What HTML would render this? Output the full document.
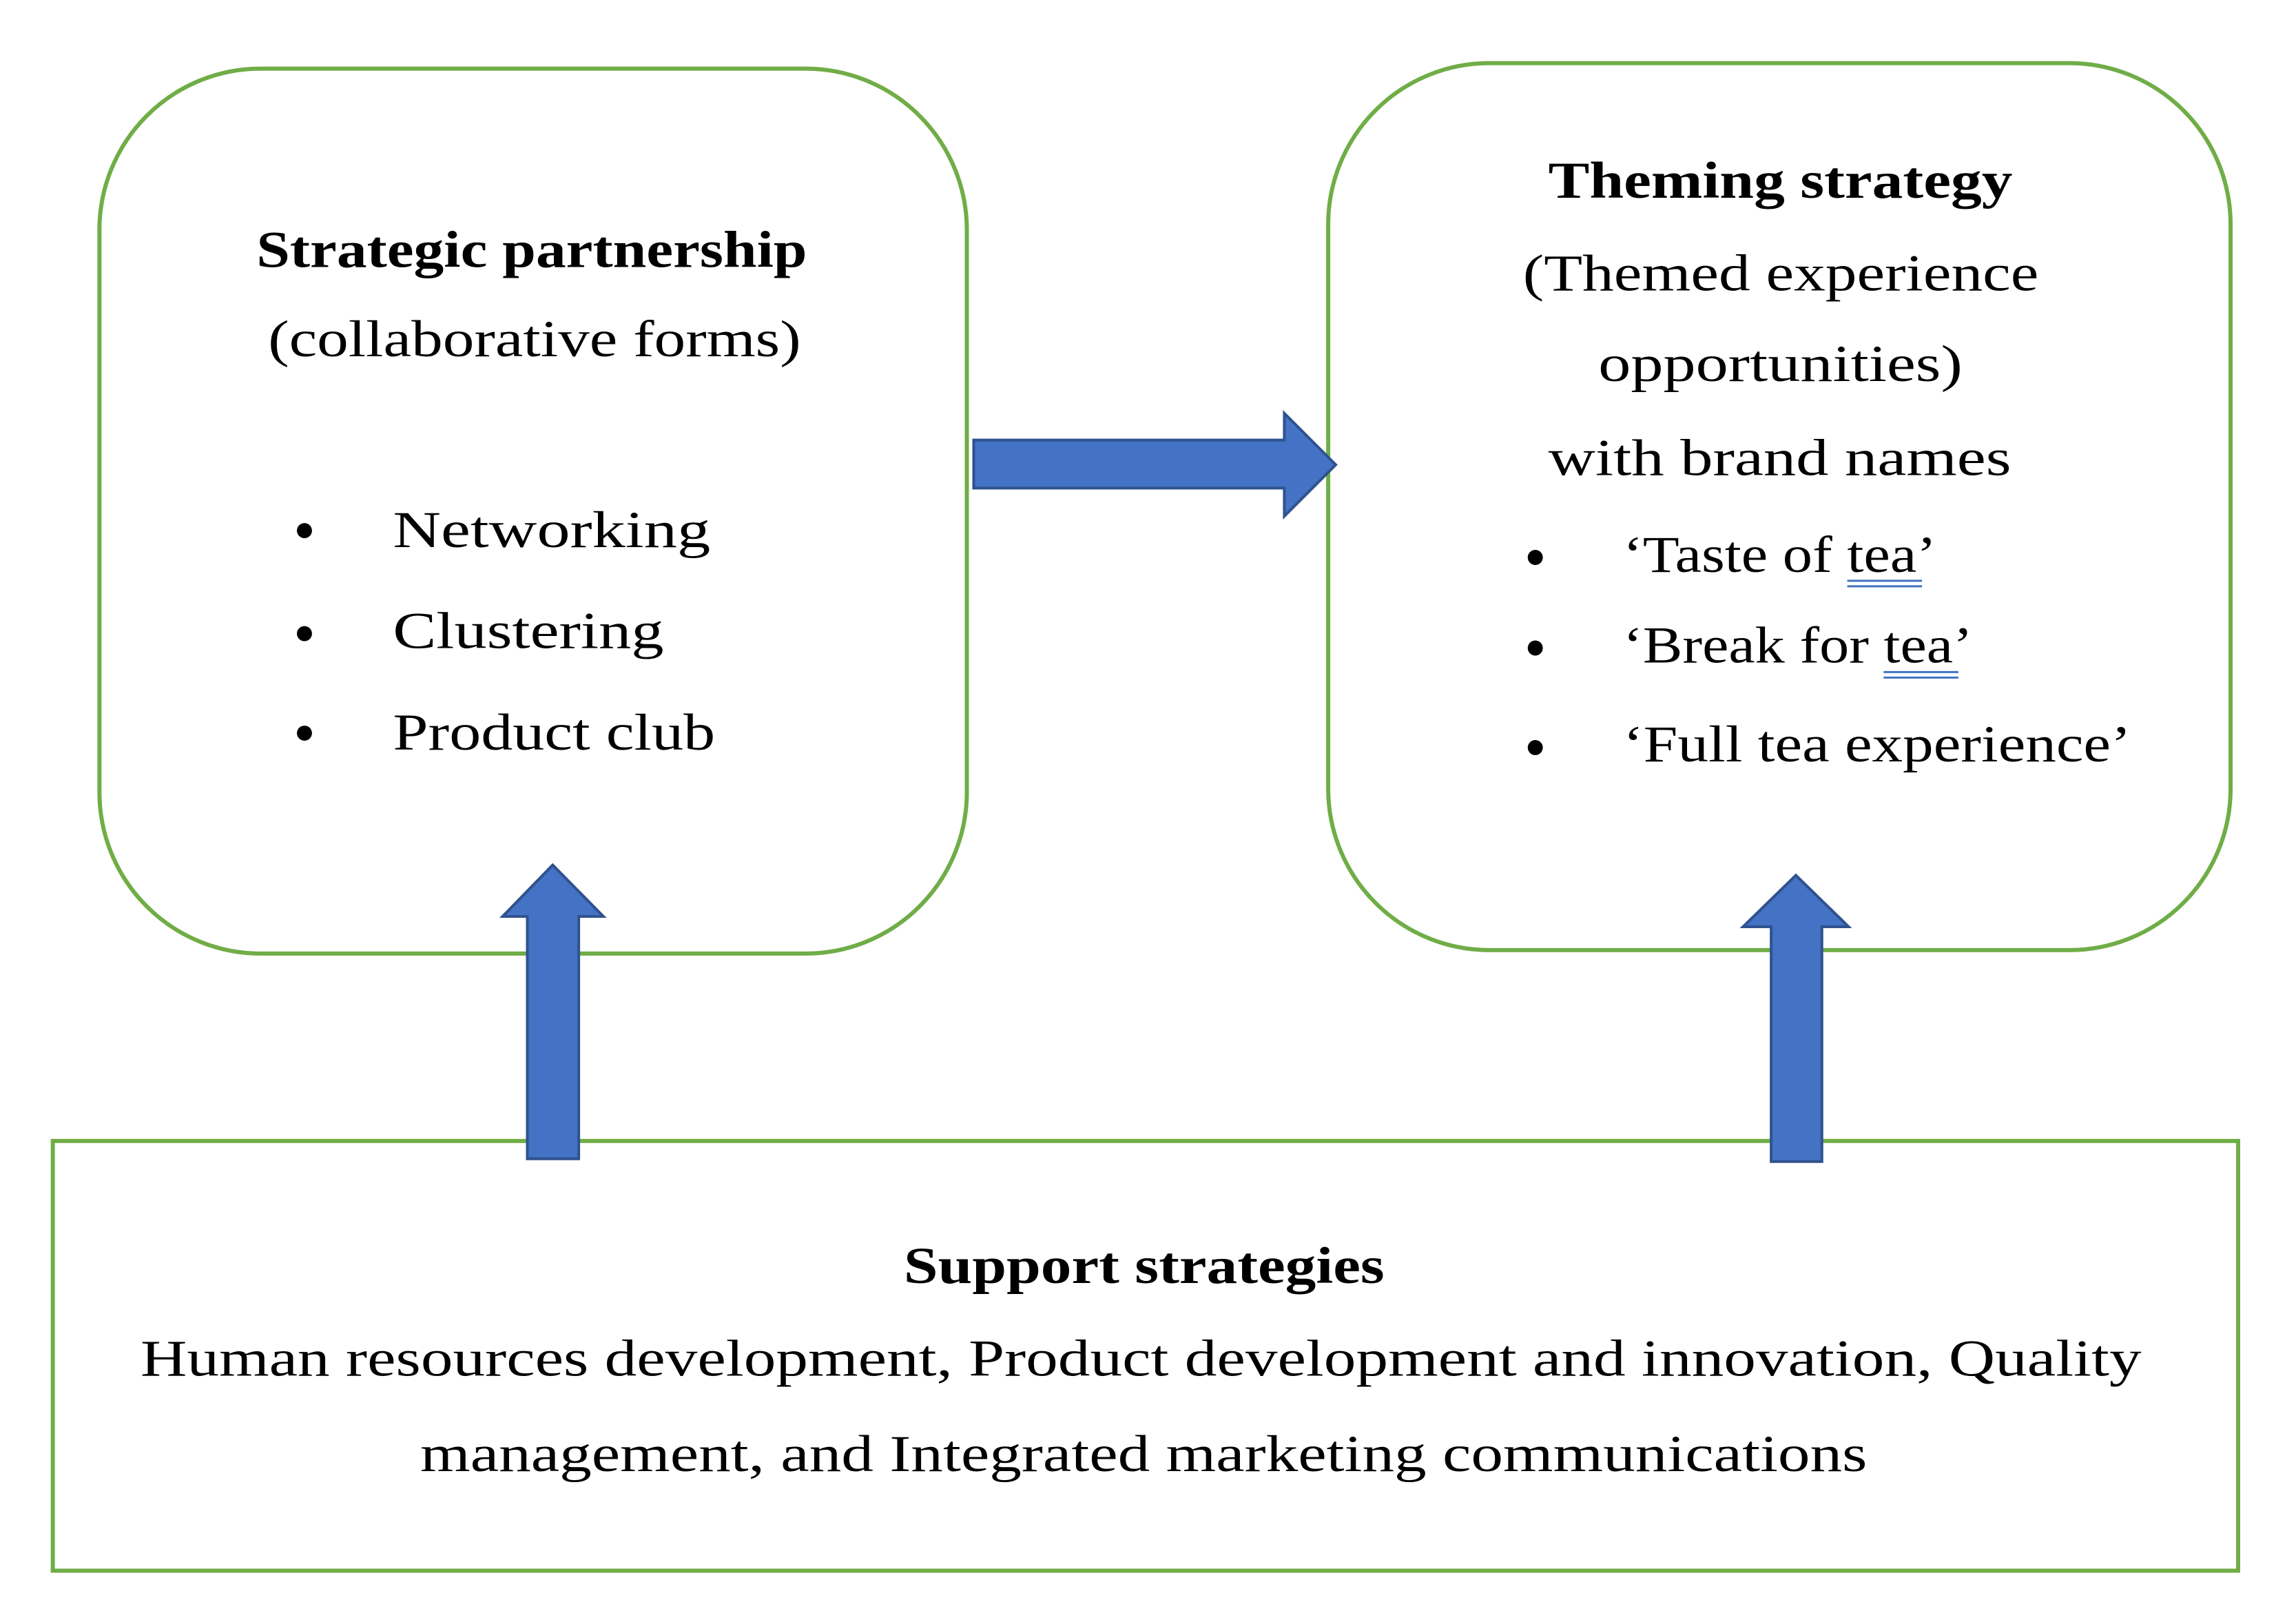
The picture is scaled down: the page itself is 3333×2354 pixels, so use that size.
<!DOCTYPE html>
<html><head><meta charset="utf-8"><style>html,body{margin:0;padding:0;background:#fff}svg{display:block}</style></head>
<body>
<svg width="3333" height="2354" viewBox="0 0 3333 2354" xmlns="http://www.w3.org/2000/svg">
<g transform="scale(0.9954,0.9963)">
<g fill="none" stroke="#70AD47" stroke-width="6">
<rect x="145" y="100" width="1265" height="1289" rx="235" ry="235"/>
<rect x="1937" y="92" width="1316" height="1292" rx="235" ry="235"/>
<rect x="77" y="1662" width="3187" height="626"/>
</g>
<g fill="#4472C4" stroke="#2F528F" stroke-width="4">
<polygon points="1420,641 1873,641 1873,602 1948,677 1873,752 1873,711 1420,711"/>
<polygon points="769,1688 769,1335 733,1335 806,1260 880,1335 844,1335 844,1688"/>
<polygon points="2583,1692 2583,1350 2542,1350 2619,1275 2696,1350 2657,1350 2657,1692"/>
</g>
<g font-family="'Liberation Serif', serif" font-size="76" fill="#000">
<text x="374" y="389" font-weight="bold" textLength="803" lengthAdjust="spacingAndGlyphs">Strategic partnership</text>
<text x="391" y="519" textLength="777" lengthAdjust="spacingAndGlyphs">(collaborative forms)</text>
<text x="573" y="797" textLength="463" lengthAdjust="spacingAndGlyphs">Networking</text>
<text x="573" y="944" textLength="395" lengthAdjust="spacingAndGlyphs">Clustering</text>
<text x="573" y="1092" textLength="470" lengthAdjust="spacingAndGlyphs">Product club</text>
<text x="2258" y="288" font-weight="bold" textLength="677" lengthAdjust="spacingAndGlyphs">Theming strategy</text>
<text x="2221" y="423" textLength="752" lengthAdjust="spacingAndGlyphs">(Themed experience</text>
<text x="2331" y="555" textLength="531" lengthAdjust="spacingAndGlyphs">opportunities)</text>
<text x="2258" y="692" textLength="675" lengthAdjust="spacingAndGlyphs">with brand names</text>
<text x="2367" y="833" textLength="457" lengthAdjust="spacingAndGlyphs">‘Taste of tea’</text>
<text x="2367" y="965" textLength="510" lengthAdjust="spacingAndGlyphs">‘Break for tea’</text>
<text x="2367" y="1109" textLength="741" lengthAdjust="spacingAndGlyphs">‘Full tea experience’</text>
<text x="1318" y="1869" font-weight="bold" textLength="701" lengthAdjust="spacingAndGlyphs">Support strategies</text>
<text x="205" y="2004" textLength="2918" lengthAdjust="spacingAndGlyphs">Human resources development, Product development and innovation, Quality</text>
<text x="613" y="2143" textLength="2110" lengthAdjust="spacingAndGlyphs">management, and Integrated marketing communications</text>
</g>
<g fill="#000">
<circle cx="444" cy="773" r="11"/><circle cx="444" cy="923" r="11"/><circle cx="444" cy="1068" r="11"/>
<circle cx="2239" cy="812" r="11"/><circle cx="2239" cy="944" r="11"/><circle cx="2239" cy="1089" r="11"/>
</g>
<g stroke="#4472C4" stroke-width="3">
<line x1="2694" y1="846" x2="2803" y2="846"/><line x1="2694" y1="854" x2="2803" y2="854"/>
<line x1="2747" y1="979" x2="2856" y2="979"/><line x1="2747" y1="987" x2="2856" y2="987"/>
</g>
</g>
</svg>
</body></html>
